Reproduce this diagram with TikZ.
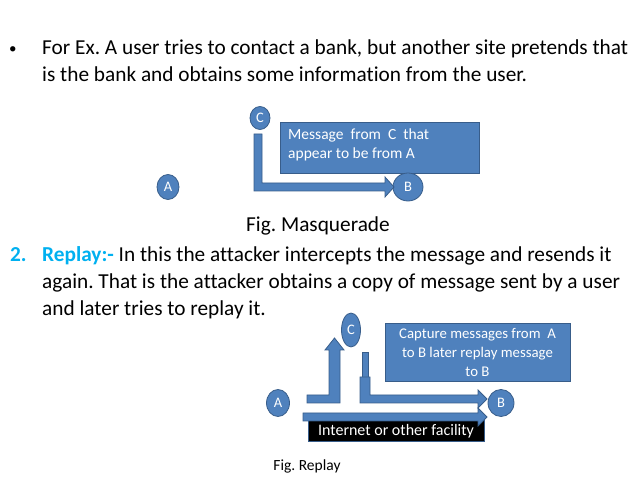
\documentclass[tikz,border=0pt]{standalone}
\usepackage{fontspec}
\setmainfont{Carlito}[Ligatures={NoCommon}]
\usetikzlibrary{shapes.geometric}
\definecolor{bfill}{HTML}{4F81BD}
\definecolor{bline}{HTML}{385D8A}
\definecolor{rcyan}{HTML}{00B0F0}
\frenchspacing
\begin{document}
\begin{tikzpicture}[x=1pt,y=-1pt,
  body/.style={anchor=base west,inner sep=0pt,font=\fontsize{21.3}{25}\selectfont},
  ell/.style={ellipse,draw=bline,line width=0.8pt,fill=bfill,text=white,inner sep=0pt,font=\fontsize{14.5}{16}\selectfont},
  blk/.style={fill=bfill,draw=bline,line width=0.8pt},
  msg/.style={rectangle,fill=bfill,draw=bline,line width=0.8pt,text=white,inner sep=0pt}
]
\useasboundingbox (0,0) rectangle (638,478);
% text
\node[anchor=base west,inner sep=0pt,font=\fontsize{15}{20}\selectfont] (bul) at (9,54) {•};
\node[body] (l1) at (42,55) {For Ex. A user tries to contact a bank, but another site pretends that};
\node[body] (l2) at (42,82) {is the bank and obtains some information from the user.};
\node[anchor=base,inner sep=0pt,font=\fontsize{21.3}{25}\selectfont] (fig1) at (318,232) {Fig. Masquerade};
\node[body,text=rcyan,font=\fontsize{21.3}{25}\selectfont\bfseries] (num) at (10,262) {2.};
\node[body] (l3) at (42,262) {\textcolor{rcyan}{\bfseries Replay:-} In this the attacker intercepts the message and resends it};
\node[body] (l4) at (42,289) {again. That is the attacker obtains a copy of message sent by a user};
\node[body] (l5) at (42,316) {and later tries to replay it.};
\node[anchor=base,inner sep=0pt,font=\fontsize{15.5}{18}\selectfont] (fig2) at (307,471) {Fig. Replay};

% masquerade diagram
\node[msg,minimum width=199pt,minimum height=51pt] (m1) at (379.5,147.5) {};
\node[anchor=north west,inner sep=0pt,text=white,align=left,font=\fontsize{15.5}{19}\selectfont] (m1t) at (288,129) {Message\ \ from\ \ C\ \ that\\appear to be from A};
\node[ell,minimum width=20pt,minimum height=23pt] (c1) at (260,118) {C};
\node[ell,minimum width=22pt,minimum height=25pt] (a1) at (168,187) {A};
\node[ell,minimum width=30pt,minimum height=28pt] (b1) at (408,187) {B};
\path[blk] (254,134) -- (262,134) -- (262,183) -- (385,183) -- (385,177) -- (394,187) -- (385,197) -- (385,191) -- (254,191) -- cycle;

% replay diagram
\node[msg,minimum width=185pt,minimum height=58pt,align=center,font=\fontsize{14.8}{19}\selectfont] (m2) at (477.5,352) {Capture messages from\ \ A\\to B later replay message\\to B};
\node[ell,minimum width=19pt,minimum height=34pt] (c2) at (351,330) {C};
\node[ell,minimum width=23pt,minimum height=27pt] (a2) at (278,403) {A};
\node[ell,minimum width=26pt,minimum height=27pt] (b2) at (501,403) {B};
\path[blk] (307,395) -- (329,395) -- (329,350) -- (325,350) -- (334.5,338) -- (344,350) -- (340,350) -- (340,403) -- (307,403) -- cycle;
\path[blk] (362,352) rectangle (368,377);
\path[blk] (360,377) -- (370,377) -- (370,395) -- (478,395) -- (478,390) -- (487,399) -- (478,408) -- (478,403) -- (360,403) -- cycle;
\node[fill=black,draw=bline,line width=0.8pt,text=white,minimum width=176pt,minimum height=21pt,inner sep=0pt,font=\fontsize{16}{18}\selectfont] (net) at (396,431) {Internet or other facility};
\path[blk] (303,413) -- (478,413) -- (478,408) -- (487,417) -- (478,426) -- (478,421) -- (303,421) -- cycle;
\end{tikzpicture}
\end{document}
